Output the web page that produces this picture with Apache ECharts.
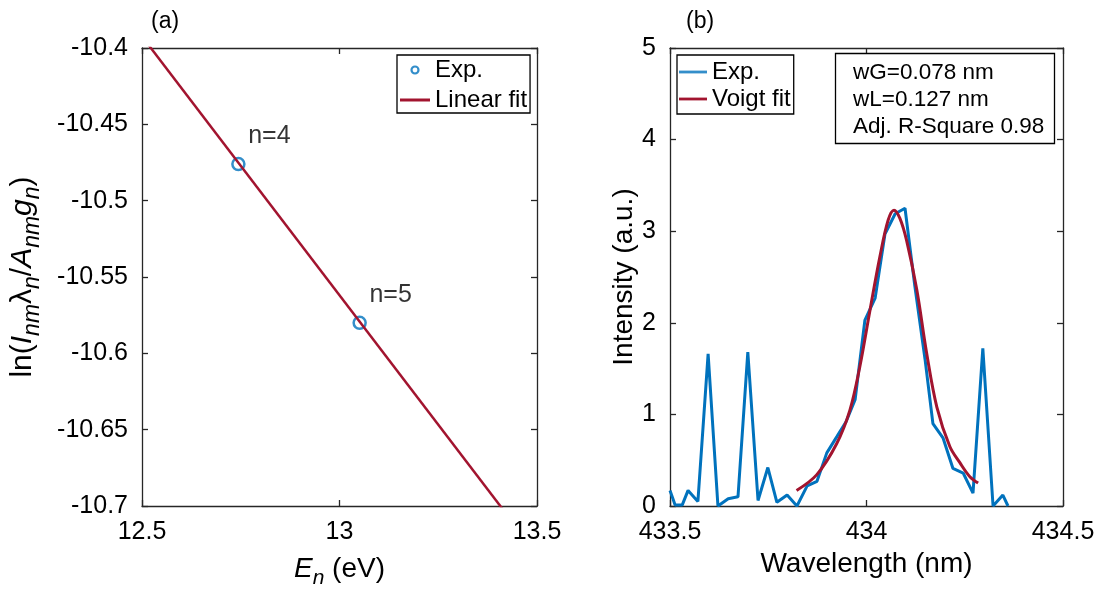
<!DOCTYPE html>
<html>
<head>
<meta charset="utf-8">
<script src="https://cdn.jsdelivr.net/npm/echarts@6/dist/echarts.min.js"></script>
<style>
html,body{margin:0;padding:0;background:#fff;}
#chart{width:1102px;height:594px;}
</style>
</head>
<body>
<div id="chart"></div>
<script>
// ---- Panel (a) data ----
const energyEV = [12.744, 13.051];
const lnRatio = [-10.476, -10.580];
const pointNames = ['n=4', 'n=5'];
const fitEnergy = [12.5, 13.5];
const fitLnRatio = [-10.3924, -10.7315];
const xTicksA = [12.5, 13, 13.5];
const yTicksA = [-10.7, -10.4];

// ---- Panel (b) data ----
const wavelength = [433.500, 433.513, 433.531, 433.546, 433.571, 433.597, 433.622, 433.648, 433.673, 433.698,
  433.724, 433.749, 433.772, 433.798, 433.823, 433.849, 433.874, 433.899, 433.925, 433.948,
  433.971, 433.996, 434.022, 434.047, 434.073, 434.098, 434.123, 434.149, 434.169, 434.195,
  434.220, 434.246, 434.271, 434.296, 434.322, 434.347, 434.360];
const intensity = [0.17, 0.01, 0.01, 0.17, 0.05, 1.66, 0.00, 0.08, 0.10, 1.68,
  0.06, 0.42, 0.04, 0.12, 0.00, 0.22, 0.27, 0.58, 0.76, 0.92,
  1.16, 2.03, 2.27, 2.97, 3.19, 3.25, 2.40, 1.60, 0.90, 0.74,
  0.41, 0.36, 0.14, 1.72, 0.00, 0.12, 0.00];
const fitWavelength = [433.822, 433.873, 433.924, 433.958, 433.983, 434.009, 434.034, 434.055, 434.070,
  434.085, 434.102, 434.128, 434.153, 434.179, 434.212, 434.238, 434.263, 434.284];
const fitIntensity = [0.17, 0.34, 0.68, 1.05, 1.52, 2.14, 2.72, 3.12, 3.23,
  3.14, 2.90, 2.36, 1.67, 1.08, 0.65, 0.47, 0.32, 0.25];
const fitInfo = ['wG=0.078 nm', 'wL=0.127 nm', 'Adj. R-Square 0.98'];

const BLUE = '#0072BD', RED = '#A2142F', AX = '#262626';
const FONT = '"Liberation Sans", Arial, sans-serif';

function pairs(xs, ys) { return xs.map((x, i) => [x, ys[i]]); }

function valueAxis(grid, pos, min, max, interval, showLabel, extra) {
  return Object.assign({
    type: 'value', gridIndex: grid, position: pos, min: min, max: max, interval: interval,
    axisLine: { show: true, onZero: false, lineStyle: { color: AX, width: 1.3 } },
    axisTick: { show: true, inside: true, length: 6, lineStyle: { color: AX, width: 1.3 } },
    axisLabel: { show: showLabel, color: '#000', fontSize: 25, fontFamily: FONT, margin: 14 },
    splitLine: { show: false }
  }, extra || {});
}

const chart = echarts.init(document.getElementById('chart'), null, { renderer: 'canvas' });
const lineIcon = 'path://M0,0H30V3H0Z';
const subRichX = {
  i: { fontSize: 28, fontStyle: 'italic', fontFamily: FONT, color: '#000' },
  s: { fontSize: 21, fontStyle: 'italic', fontFamily: FONT, color: '#000', padding: [18, 0, 0, 0] }
};
const subRichY = {
  i: { fontSize: 30, fontStyle: 'italic', fontFamily: FONT, color: '#000' },
  s: { fontSize: 23, fontStyle: 'italic', fontFamily: FONT, color: '#000', padding: [19, 0, 0, 0] }
};

const option = {
  animation: false,
  backgroundColor: '#fff',
  textStyle: { fontFamily: FONT },
  grid: [
    { left: 142, top: 48, width: 395, height: 458 },
    { left: 670, top: 48, width: 393, height: 458 }
  ],
  title: [
    { text: '(a)', left: 146, top: 5, textStyle: { fontSize: 23, fontWeight: 'normal', color: '#000', fontFamily: FONT } },
    { text: '(b)', left: 681, top: 5, textStyle: { fontSize: 23, fontWeight: 'normal', color: '#000', fontFamily: FONT } },
    { text: fitInfo.join('\n'), left: 835, top: 53, borderColor: '#000', borderWidth: 1.3,
      padding: [6, 10, 4, 18],
      textStyle: { fontSize: 22.5, lineHeight: 27, fontWeight: 'normal', color: '#000', fontFamily: FONT } }
  ],
  legend: [
    { orient: 'vertical', left: 397, top: 55, padding: [2, 3, 0, 3], itemGap: 4,
      itemWidth: 30, itemHeight: 7, borderColor: '#000', borderWidth: 1.3, backgroundColor: '#fff',
      textStyle: { fontSize: 24, lineHeight: 26, color: '#000', fontFamily: FONT },
      data: [
        { name: 'Exp.', icon: 'circle', itemStyle: { color: 'rgba(255,255,255,0)', borderColor: BLUE, borderWidth: 2.2 } },
        { name: 'Linear fit', icon: lineIcon, itemStyle: { color: RED, borderWidth: 0 } }
      ] },
    { orient: 'vertical', left: 677, top: 55, padding: [4, 3, 2, 2], itemGap: 1,
      itemWidth: 28, itemHeight: 7, borderColor: '#000', borderWidth: 1.3, backgroundColor: '#fff',
      textStyle: { fontSize: 24, lineHeight: 26, color: '#000', fontFamily: FONT },
      data: [
        { name: 'Exp.', icon: lineIcon, itemStyle: { color: BLUE, borderWidth: 0 } },
        { name: 'Voigt fit', icon: lineIcon, itemStyle: { color: RED, borderWidth: 0 } }
      ] }
  ],
  xAxis: [
    valueAxis(0, 'bottom', xTicksA[0], xTicksA[2], 0.5, true, {
      name: '{i|E}{s|n} (eV)', nameLocation: 'middle', nameGap: 44,
      nameTextStyle: { fontSize: 28, color: '#000', fontFamily: FONT, rich: subRichX }
    }),
    valueAxis(0, 'top', xTicksA[0], xTicksA[2], 0.5, false),
    valueAxis(1, 'bottom', 433.5, 434.5, 0.5, true, {
      name: 'Wavelength (nm)', nameLocation: 'middle', nameGap: 44,
      nameTextStyle: { fontSize: 28, color: '#000', fontFamily: FONT }
    }),
    valueAxis(1, 'top', 433.5, 434.5, 0.5, false)
  ],
  yAxis: [
    valueAxis(0, 'left', yTicksA[0], yTicksA[1], 0.05, true, {
      name: 'ln({i|I}{s|nm}λ{s|n}/{i|A}{s|nm}{i|g}{s|n})', nameLocation: 'middle', nameGap: 98,
      nameTextStyle: { fontSize: 30, color: '#000', fontFamily: FONT, rich: subRichY }
    }),
    valueAxis(0, 'right', yTicksA[0], yTicksA[1], 0.05, false),
    valueAxis(1, 'left', 0, 5, 1, true, {
      name: 'Intensity (a.u.)', nameLocation: 'middle', nameGap: 29,
      nameTextStyle: { fontSize: 28, color: '#000', fontFamily: FONT }
    }),
    valueAxis(1, 'right', 0, 5, 1, false)
  ],
  series: [
    { name: 'Exp.', type: 'scatter', xAxisIndex: 0, yAxisIndex: 0,
      data: energyEV.map((e, i) => ({ value: [e, lnRatio[i]], name: pointNames[i] })),
      symbol: 'circle', symbolSize: 12,
      itemStyle: { color: 'rgba(255,255,255,0)', borderColor: BLUE, borderWidth: 2.5 },
      label: { show: true, position: 'top', offset: [31, -3], formatter: p => p.name,
        fontSize: 25, color: '#000', textBorderWidth: 0, fontFamily: FONT } },
    { name: 'Linear fit', type: 'line', xAxisIndex: 0, yAxisIndex: 0,
      data: pairs(fitEnergy, fitLnRatio), showSymbol: false, symbol: 'none', clip: true,
      lineStyle: { color: RED, width: 2.5 }, itemStyle: { color: RED } },
    { name: 'Exp.', type: 'line', xAxisIndex: 2, yAxisIndex: 2,
      data: pairs(wavelength, intensity), showSymbol: false, symbol: 'none', clip: true,
      lineStyle: { color: BLUE, width: 3 }, itemStyle: { color: BLUE } },
    { name: 'Voigt fit', type: 'line', xAxisIndex: 2, yAxisIndex: 2,
      data: pairs(fitWavelength, fitIntensity), showSymbol: false, symbol: 'none', smooth: 0.35, clip: true,
      lineStyle: { color: RED, width: 3 }, itemStyle: { color: RED } }
  ]
};
chart.setOption(option);
</script>
</body>
</html>
